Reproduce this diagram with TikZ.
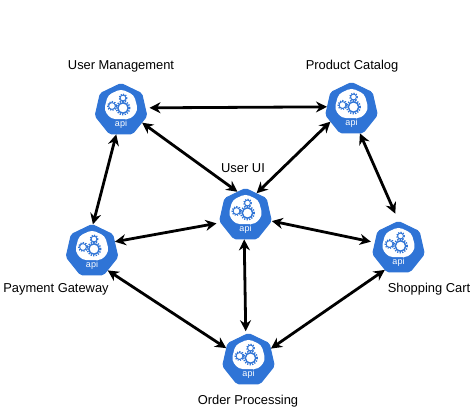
\documentclass[tikz,border=0pt]{standalone}
\usepackage{fontspec}
\setmainfont{Liberation Sans}
\usetikzlibrary{shapes.geometric,arrows.meta}
\definecolor{k8sblue}{HTML}{2F74D6}
\tikzset{
  x=1pt,y=-1pt,
  apibox/.style={regular polygon,regular polygon sides=7,minimum size=53pt,inner sep=0pt,fill=k8sblue,draw=k8sblue,line width=1pt,rounded corners=2pt,outer sep=0.5pt},
  inner/.style={fill=white,rounded corners=4pt},
  tooth/.style={draw=k8sblue,dash pattern=on 1.2pt off 1.3pt,fill=none},
  hub/.style={draw=k8sblue,fill=white},
  apitext/.style={text=white,font=\fontsize{9}{10}\selectfont,inner sep=0pt},
  lab/.style={font=\fontsize{12.9}{15}\selectfont,inner sep=0pt,text=black},
  link/.style={{Stealth[length=11pt,width=11pt]}-{Stealth[length=11pt,width=11pt]},line width=2.8pt,black}
}
\newcommand{\apiicon}[3]{%
  \node[apibox] (#1) at (#2,#3) {};
  \begin{scope}[shift={(#2,#3)}]
    \fill[inner] (0,-21) -- (13,-15) -- (17,0) -- (10,9) -- (-10,9) -- (-17,0) -- (-13,-15) -- cycle;
    \draw[tooth,line width=1.3pt] (-9,-4) circle (4.4);
    \draw[hub,line width=0.9pt] (-9,-4) circle (3.4);
    \draw[tooth,line width=1.3pt] (2,-12) circle (3.8);
    \draw[hub,line width=0.9pt] (2,-12) circle (2.9);
    \draw[tooth,line width=1.6pt] (2,-2) circle (6.6);
    \draw[hub,line width=1.4pt] (2,-2) circle (5.2);
    \node[apitext] (#1t) at (0,14) {api};
  \end{scope}}
\begin{document}
\begin{tikzpicture}
\useasboundingbox (0,0) rectangle (474,412);
\fill[white] (0,0) rectangle (474,412);
\apiicon{um}{121}{110}
\apiicon{pc}{351.5}{109}
\apiicon{ui}{245.5}{215}
\apiicon{pg}{92}{251}
\apiicon{sc}{398.5}{248}
\apiicon{op}{248.5}{360}
\node[lab] (lum) at (121,66) {User Management};
\node[lab] (lpc) at (352,66) {Product Catalog};
\node[lab] (lui) at (243,168) {User UI};
\node[lab] (lpg) at (56,289) {Payment Gateway};
\node[lab] (lsc) at (429,289) {Shopping Cart};
\node[lab] (lop) at (248,401) {Order Processing};
\draw[link,shorten <=4pt] (um.5) -- (pc.175);
\draw[link] (um.-31) -- (ui.109);
\draw[link] (pc.211) -- (ui.63);
\draw[link] (um.259) -- (pg.88);
\draw[link,shorten >=8pt] (pc.289) -- (sc.90);
\draw[link,shorten >=4pt] (pg.22) -- (ui.197);
\draw[link,shorten >=4pt] (ui.-13) -- (sc.167);
\draw[link,shorten >=3pt] (ui.267) -- (op.96);
\draw[link] (pg.-51) -- (op.152);
\draw[link] (op.27) -- (sc.238);
\end{tikzpicture}
\end{document}
